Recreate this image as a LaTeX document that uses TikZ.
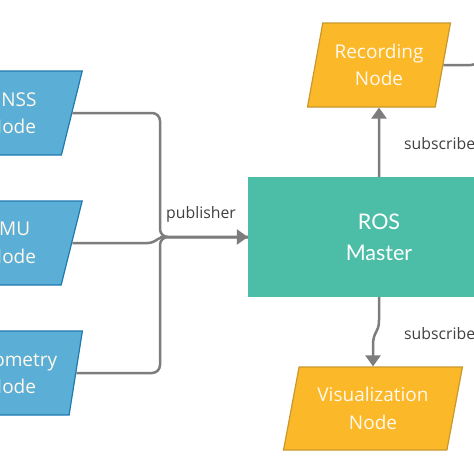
\documentclass[tikz,border=0pt]{standalone}
\usepackage{fontspec}
\setmainfont{Open Sans}
\newfontfamily\latofont{Lato}
\usetikzlibrary{shapes.geometric,arrows.meta}
\definecolor{bluefill}{HTML}{5BAFD6}
\definecolor{blueline}{HTML}{1F7AAE}
\definecolor{orangefill}{HTML}{FBB829}
\definecolor{orangeline}{HTML}{C9982C}
\definecolor{tealfill}{HTML}{4CBEA7}
\definecolor{linegray}{HTML}{7D7D7D}
\definecolor{labelgray}{HTML}{404040}
\definecolor{nodetext}{HTML}{FFF8EC}
\tikzset{
  para/.style={trapezium, trapezium stretches=true, inner sep=0pt, align=center,
    text=nodetext, line width=1.2pt, font=\fontsize{19}{27.5}\selectfont},
  bluenode/.style={para, fill=bluefill, draw=blueline,
    trapezium left angle=76, trapezium right angle=104,
    minimum width=141pt, minimum height=84pt},
  orangenode/.style={para, fill=orangefill, draw=orangeline},
  rosbox/.style={rectangle, fill=tealfill, draw=none, inner sep=0pt, align=center,
    text=white, minimum width=262pt, minimum height=120pt,
    font=\latofont\fontsize{21.5}{31}\selectfont},
  conn/.style={draw=linegray, line width=2.5pt},
  tip/.style={-{Triangle[length=11pt,width=15pt]}},
  lbl/.style={inner sep=0pt, text=labelgray, font=\fontsize{15.8}{18}\selectfont}
}
\begin{document}
\begin{tikzpicture}[x=1pt,y=1pt]
\useasboundingbox (0,0) rectangle (474,-474);
\clip (0,0) rectangle (474,-474);
\fill[white] (0,0) rectangle (474,-474);

% nodes
\node[bluenode] (gnss) at (12,-113) {GNSS\\Node};
\node[bluenode] (imu) at (12,-243) {IMU\\Node};
\node[bluenode] (odo) at (12,-373) {Odometry\\Node};
\node[rosbox] (ros) at (379,-237) {ROS\\Master};
\node[orangenode, trapezium left angle=74, trapezium right angle=106,
  minimum width=143pt, minimum height=84pt] (rec) at (379,-65) {Recording\\Node};
\node[orangenode, trapezium left angle=74.5, trapezium right angle=105.5,
  minimum width=179pt, minimum height=83pt] (vis) at (373,-408.5) {Visualization\\Node};

% publisher connectors
\coordinate (j) at (160,-237);
\draw[conn, rounded corners=8pt] (gnss.east) -| (j) -- (ros.west);
\draw[conn, rounded corners=8pt] (odo.east) -| (j) -- (ros.west);
\draw[conn, rounded corners=5pt] (imu.east) -- (153,-243) -- (j) -- (ros.west);
\draw[conn, tip] (j) -- (ros.west);
\node[lbl] (pub) at (201,-214.5) {publisher};

% subscriber connectors
\draw[conn, tip] (ros.north) -- (rec.south);
\node[lbl, anchor=west] (sub1) at (404,-143.5) {subscriber};
\draw[conn, tip] (ros.south) -- (379,-320) .. controls (379,-334) and (373,-330) .. (373,-346) -- (vis.north);
\node[lbl, anchor=west] (sub2) at (404,-333.5) {subscriber};

% outgoing line at top right
\coordinate (out) at (480,10);
\draw[conn, rounded corners=9pt] (rec.east) -| (out);
\end{tikzpicture}
\end{document}
